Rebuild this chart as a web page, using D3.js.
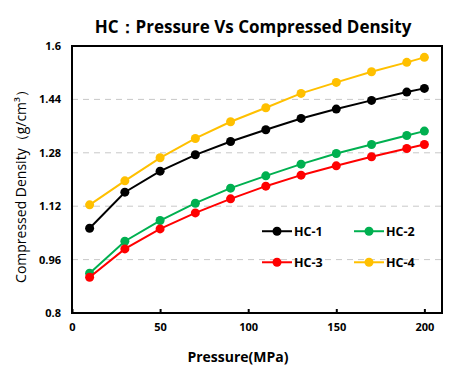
<!DOCTYPE html>
<html>
<head>
<meta charset="utf-8">
<script src="https://d3js.org/d3.v7.min.js"></script>
<style>
  body { margin: 0; background: #fff; font-family: "Open Sans", "Noto Sans", sans-serif; }
</style>
</head>
<body>
<div id="chart"></div>
<script>
// pressure values (MPa)
var pressure = [10, 30, 50, 70, 90, 110, 130, 150, 170, 190, 200]
var hc1 = [1.054, 1.162, 1.225, 1.274, 1.314, 1.349, 1.383, 1.411, 1.437, 1.462, 1.473]
var hc2 = [0.919, 1.015, 1.077, 1.129, 1.174, 1.211, 1.246, 1.278, 1.305, 1.332, 1.345]
var hc3 = [0.907, 0.992, 1.052, 1.100, 1.142, 1.180, 1.213, 1.241, 1.268, 1.293, 1.305]
var hc4 = [1.124, 1.196, 1.265, 1.323, 1.373, 1.415, 1.458, 1.491, 1.523, 1.551, 1.566]
var seriesNames = ['HC-1', 'HC-2', 'HC-3', 'HC-4']
var xTicks = [0, 50, 100, 150, 200]
var yTicks = [0.8, 0.96, 1.12, 1.28, 1.44, 1.6]

var series = [hc1, hc2, hc3, hc4]
var colors = ['#000000', '#00b050', '#ff0000', '#ffc000']

var W = 474, H = 373
var margin = { top: 46, right: 32, bottom: 60, left: 72 }
var width = W - margin.left - margin.right
var height = H - margin.top - margin.bottom

var svg = d3.select('#chart').append('svg')
    .attr('width', W).attr('height', H)

var g = svg.append('g')
    .attr('transform', 'translate(' + margin.left + ',' + margin.top + ')')

var x = d3.scaleLinear().domain([0, 210]).range([0, width])
var y = d3.scaleLinear().domain([0.8, 1.6]).range([height, 0])

// gridlines
g.selectAll('.grid')
    .data(yTicks.filter(d => d > 0.8 && d < 1.6))
    .enter().append('line')
    .attr('x1', 0).attr('x2', width)
    .attr('y1', d => y(d)).attr('y2', d => y(d))
    .attr('stroke', '#c8c8c8')
    .attr('stroke-width', 1)
    .attr('stroke-dasharray', '6,5')

// x axis ticks pointing inward
var xAxis = g.append('g')
    .attr('transform', 'translate(0,' + height + ')')
    .call(d3.axisBottom(x).tickValues(xTicks).tickSizeInner(-4).tickSizeOuter(0).tickPadding(10))
xAxis.select('.domain').remove()
xAxis.selectAll('line').attr('stroke', '#000').attr('stroke-width', 2)
xAxis.selectAll('text')
    .attr('font-size', '11px').attr('font-weight', 'bold').attr('fill', '#000')
    .attr('font-family', '"Open Sans", sans-serif')

var yAxis = g.append('g')
    .call(d3.axisLeft(y).tickValues(yTicks).tickSize(0).tickPadding(11)
        .tickFormat(d => d === 0.8 ? '0.8' : d === 1.6 ? '1.6' : d3.format('.2f')(d)))
yAxis.select('.domain').remove()
yAxis.selectAll('text')
    .attr('font-size', '11px').attr('font-weight', 'bold').attr('fill', '#000')
    .attr('font-family', '"Open Sans", sans-serif')

// frame
g.append('rect')
    .attr('x', 0).attr('y', 0)
    .attr('width', width).attr('height', height)
    .attr('fill', 'none').attr('stroke', '#000').attr('stroke-width', 2)

var line = d3.line()
    .x((d, i) => x(pressure[i]))
    .y(d => y(d))

series.forEach(function(s, k) {
    g.append('path')
        .datum(s)
        .attr('d', line)
        .attr('fill', 'none')
        .attr('stroke', colors[k])
        .attr('stroke-width', 2)
    g.selectAll('.dot' + k)
        .data(s)
        .enter().append('circle')
        .attr('cx', (d, i) => x(pressure[i]))
        .attr('cy', d => y(d))
        .attr('r', 4.5)
        .attr('fill', colors[k])
})

// legend
var legendX = [190, 282]
var legendY = [y(1.045), y(0.952)]
seriesNames.forEach(function(name, k) {
    var lx = legendX[k % 2], ly = legendY[Math.floor(k / 2)]
    var lg = g.append('g').attr('transform', 'translate(' + lx + ',' + ly + ')')
    lg.append('line').attr('x1', 0).attr('x2', 30).attr('y1', 0).attr('y2', 0)
        .attr('stroke', colors[k]).attr('stroke-width', 2)
    lg.append('circle').attr('cx', 15).attr('cy', 0).attr('r', 4.5).attr('fill', colors[k])
    lg.append('text').attr('x', 32).attr('y', 0).attr('dy', '0.35em')
        .attr('font-size', '12.5px').attr('font-weight', 'bold')
        .text(name)
})

// title
svg.append('text')
    .attr('x', 253).attr('y', 33)
    .attr('text-anchor', 'middle')
    .attr('font-size', '17px').attr('font-weight', 'bold')
    .text('HC：Pressure Vs Compressed Density')

// axis titles
svg.append('text')
    .attr('x', 238).attr('y', 362)
    .attr('text-anchor', 'middle')
    .attr('font-size', '14px').attr('font-weight', 'bold')
    .text('Pressure(MPa)')

svg.append('text')
    .attr('transform', 'translate(26,183) rotate(-90)')
    .attr('text-anchor', 'middle')
    .attr('font-size', '14px')
    .text('Compressed Density（g/cm³）')
</script>
</body>
</html>
